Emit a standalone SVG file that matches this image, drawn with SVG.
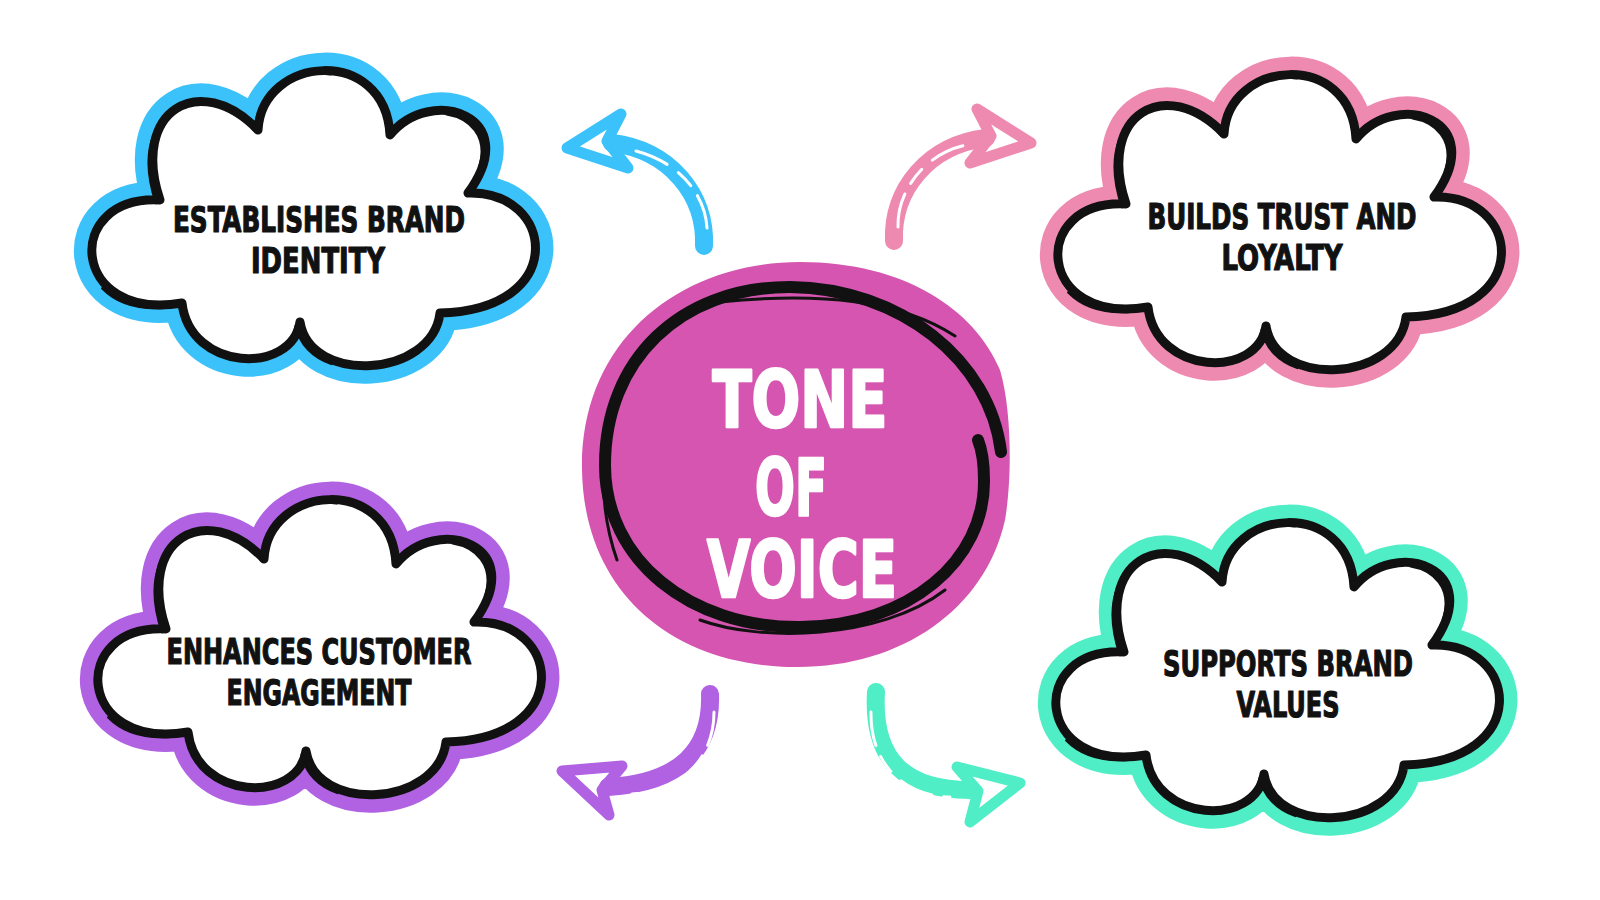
<svg xmlns="http://www.w3.org/2000/svg" xmlns:xlink="http://www.w3.org/1999/xlink" width="1600" height="900" viewBox="0 0 1600 900">
<style>
.bg{fill:#ffffff}
.halo{stroke-width:36;stroke-linejoin:round}
.h-blue{fill:#3cc2fa;stroke:#3cc2fa}
.h-pink{fill:#ee8ab0;stroke:#ee8ab0}
.h-purple{fill:#b062e3;stroke:#b062e3}
.h-teal{fill:#50eec6;stroke:#50eec6}
.outline{fill:#ffffff;stroke:#111111;stroke-width:9;stroke-linejoin:round;stroke-linecap:round}
.sketch{fill:none;stroke:#111111;stroke-width:2.5;stroke-linecap:round;stroke-dasharray:70 160}
.label{font-family:"Liberation Sans Narrow","DejaVu Sans Condensed","Liberation Sans",sans-serif;font-weight:bold;font-size:36px;text-anchor:middle;fill:#111111;stroke:#111111;stroke-width:1.2;stroke-linejoin:round}
.title{font-family:"Liberation Sans Narrow","DejaVu Sans Condensed","Liberation Sans",sans-serif;font-weight:bold;font-size:78px;text-anchor:middle;fill:#ffffff;stroke:#ffffff;stroke-width:2.5;stroke-linejoin:round}
.head{fill:#ffffff;stroke-width:11;stroke-linejoin:round}
.shaft{fill:none;stroke-width:18;stroke-linecap:round}
.streak{fill:none;stroke:#ffffff;stroke-width:3;stroke-linecap:round;stroke-dasharray:34 12 18 14}
.c-blue{stroke:#3cc2fa}
.c-pink{stroke:#ee8ab0}
.c-purple{stroke:#b062e3}
.c-teal{stroke:#50eec6}
.ring{fill:none;stroke:#111111;stroke-width:12;stroke-linecap:round;stroke-linejoin:round}
.ring2{fill:none;stroke:#111111;stroke-width:3;stroke-linecap:round}
</style>
<defs>
<path id="cloudShape" d="M 160 200 C 130 110, 200 70, 258 130 C 262 55, 385 45, 390 135 C 430 85, 525 115, 468 193 C 555 190, 570 310, 440 313 C 432 378, 310 385, 300 322 C 292 375, 190 372, 182 303 C 70 322, 62 195, 160 200 Z"/>
</defs>
<rect class="bg" x="0" y="0" width="1600" height="900"/>

<g id="connectors">
  <g id="arrow-identity">
    <path class="head c-blue" d="M 567 148 L 621 114 L 607 141 L 628 168 Z"/>
    <path class="shaft c-blue" d="M 704 246 C 706 195 670 150 612 143"/>
    <path class="streak" d="M 707 228 C 705 192 676 160 632 150"/>
  </g>
  <g id="arrow-trust" transform="translate(1598,-5) scale(-1,1)">
    <path class="head c-pink" d="M 567 148 L 621 114 L 607 141 L 628 168 Z"/>
    <path class="shaft c-pink" d="M 704 246 C 706 195 670 150 612 143"/>
    <path class="streak" d="M 700 232 C 701 195 672 158 632 150"/>
  </g>
  <g id="arrow-engagement">
    <path class="head c-purple" d="M 562 771 L 622 766 L 602 790 L 609 815 Z"/>
    <path class="shaft c-purple" d="M 710 694 C 712 750 680 783 608 787"/>
    <path class="streak" d="M 714 712 C 714 755 686 790 632 794"/>
  </g>
  <g id="arrow-values">
    <path class="head c-teal" d="M 1020 783 L 957 767 L 978 791 L 970 822 Z"/>
    <path class="shaft c-teal" d="M 876 692 C 872 760 905 790 970 790"/>
    <path class="streak" d="M 871 712 C 870 765 905 796 950 797"/>
  </g>
</g>

<g id="node-identity">
  <use xlink:href="#cloudShape" class="halo h-blue"/>
  <use xlink:href="#cloudShape" class="outline"/>
  <use xlink:href="#cloudShape" class="sketch" transform="translate(-4,3)"/>
  <text class="label" x="319" y="232" textLength="292" lengthAdjust="spacingAndGlyphs">ESTABLISHES BRAND</text>
  <text class="label" x="318" y="273" textLength="134" lengthAdjust="spacingAndGlyphs">IDENTITY</text>
</g>

<g id="node-trust">
  <g transform="translate(966,4)">
    <use xlink:href="#cloudShape" class="halo h-pink"/>
    <use xlink:href="#cloudShape" class="outline"/>
    <use xlink:href="#cloudShape" class="sketch" transform="translate(-4,3)"/>
  </g>
  <text class="label" x="1282" y="229" textLength="269" lengthAdjust="spacingAndGlyphs">BUILDS TRUST AND</text>
  <text class="label" x="1282" y="270" textLength="121" lengthAdjust="spacingAndGlyphs">LOYALTY</text>
</g>

<g id="node-engagement">
  <g transform="translate(6,429)">
    <use xlink:href="#cloudShape" class="halo h-purple"/>
    <use xlink:href="#cloudShape" class="outline"/>
    <use xlink:href="#cloudShape" class="sketch" transform="translate(-4,3)"/>
  </g>
  <text class="label" x="319" y="664" textLength="305" lengthAdjust="spacingAndGlyphs">ENHANCES CUSTOMER</text>
  <text class="label" x="319" y="705" textLength="185" lengthAdjust="spacingAndGlyphs">ENGAGEMENT</text>
</g>

<g id="node-values">
  <g transform="translate(964,452)">
    <use xlink:href="#cloudShape" class="halo h-teal"/>
    <use xlink:href="#cloudShape" class="outline"/>
    <use xlink:href="#cloudShape" class="sketch" transform="translate(-4,3)"/>
  </g>
  <text class="label" x="1288" y="676" textLength="250" lengthAdjust="spacingAndGlyphs">SUPPORTS BRAND</text>
  <text class="label" x="1288" y="717" textLength="103" lengthAdjust="spacingAndGlyphs">VALUES</text>
</g>

<g id="node-center">
  <path fill="#d555b0" d="M 582 470 C 580 340, 680 262, 800 262 C 905 262, 975 310, 1000 370 C 1012 410, 1012 480, 1005 520 C 985 610, 900 668, 795 667 C 670 666, 584 590, 582 470 Z"/>
  <path class="ring" d="M 1001 452 C 990 360, 900 288, 790 287 C 680 287, 605 360, 605 465 C 605 560, 690 628, 800 627 C 910 626, 985 560, 984 480 C 984 465, 982 450, 978 440"/>
  <path class="ring2" d="M 955 336 C 900 300, 820 292, 720 302"/>
  <path class="ring2" d="M 617 560 C 596 500, 598 420, 632 368"/>
  <path class="ring2" d="M 700 620 C 760 642, 880 640, 945 590"/>
  <text class="title" x="800" y="427" textLength="175" lengthAdjust="spacingAndGlyphs">TONE</text>
  <text class="title" x="791" y="515" textLength="72" lengthAdjust="spacingAndGlyphs">OF</text>
  <text class="title" x="802" y="597" textLength="190" lengthAdjust="spacingAndGlyphs">VOICE</text>
</g>
</svg>
